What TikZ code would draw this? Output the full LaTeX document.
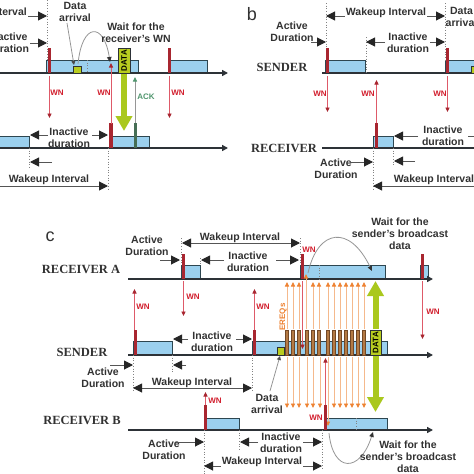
\documentclass[tikz,border=0pt]{standalone}
\usepackage{fontspec}
\setmainfont{Liberation Sans}
\newfontfamily\rsserif{Liberation Serif}
\usetikzlibrary{arrows.meta}
\definecolor{boxblue}{RGB}{155,208,238}
\definecolor{boxedge}{RGB}{45,70,80}
\definecolor{barred}{RGB}{168,38,48}
\definecolor{wnred}{RGB}{222,90,105}
\definecolor{wnlabel}{RGB}{210,30,45}
\definecolor{textgray}{RGB}{50,50,50}
\definecolor{lineg}{RGB}{45,50,55}
\definecolor{shaftg}{RGB}{85,85,85}
\definecolor{datagreen}{RGB}{184,204,32}
\definecolor{biggreen}{RGB}{170,200,30}
\definecolor{ackgreen}{RGB}{80,150,110}
\definecolor{ackbar}{RGB}{70,110,85}
\definecolor{orangeline}{RGB}{245,185,140}
\definecolor{orangehead}{RGB}{238,130,50}
\definecolor{ereqbar}{RGB}{180,122,68}
\definecolor{ereqedge}{RGB}{115,72,38}
\definecolor{dotgray}{RGB}{130,130,130}
\definecolor{curvegray}{RGB}{150,150,150}
\newcommand\rsLbl{\fontsize{10.5}{12}\selectfont\bfseries}
\newcommand\rsWNf{\fontsize{8}{9}\selectfont\bfseries}
\newcommand\rsRole{\fontsize{12.5}{14}\selectfont\rsserif\bfseries}
\newcommand\rsPanel{\fontsize{18}{20}\selectfont}
\newcommand\rsBar[2]{\fill[barred] (#1-1.6,#2-25) rectangle (#1+1.6,#2);}
\tikzset{
  txt/.style={font=\rsLbl, text=textgray, align=center, inner sep=0pt},
  wtxt/.style={txt, fill=white, inner xsep=1pt, inner ysep=0.5pt},
  role/.style={font=\rsRole, text=textgray, inner sep=0pt},
  slotbox/.style={draw=boxedge, fill=boxblue, line width=1pt},
  timeline/.style={draw=lineg, line width=1.6pt, -{Triangle[length=6pt,width=6pt]}},
  rsdots/.style={draw=dotgray, dotted, line width=0.7pt},
  bigtip/.style={draw=shaftg, line width=1pt, -{Triangle[length=9pt,width=9pt,color=black!85]}},
  dbltip/.style={draw=shaftg, line width=1pt, {Triangle[length=9pt,width=9pt,color=black!85]}-{Triangle[length=9pt,width=9pt,color=black!85]}},
  wnarrow/.style={draw=wnred, line width=0.9pt, -{Triangle[length=4.5pt,width=4pt,color=barred]}},
  wnlbl/.style={font=\rsWNf, text=wnlabel, inner sep=0pt},
  ereqbarst/.style={fill=ereqbar, draw=ereqedge, line width=0.5pt},
  ereqarrow/.style={draw=orangeline, line width=0.9pt, -{Triangle[length=4.5pt,width=4pt,color=orangehead]}},
  greenarrow/.style={draw=biggreen, line width=6pt, -{Triangle[length=15pt,width=16pt]}},
  databox/.style={fill=datagreen, draw=lineg, line width=0.7pt},
  datatxt/.style={font=\rsWNf, text=black, rotate=90, inner sep=0pt},
  curvearrow/.style={draw=curvegray, line width=0.8pt, -{Triangle[length=5pt,width=4.5pt,color=black!80]}},
  pointer/.style={draw=curvegray, line width=0.8pt, -{Triangle[length=4pt,width=4pt,color=black!70]}},
  ackarrow/.style={draw=curvegray, line width=0.9pt, -{Triangle[length=4.5pt,width=4pt,color=ackgreen]}}
}
\begin{document}
\begin{tikzpicture}[x=1pt,y=-1pt]
\useasboundingbox (0,0) rectangle (474,474);
\fill[white] (0,0) rectangle (474,474);
\clip (0,0) rectangle (474,474);

% ================= panel a =================
\draw[slotbox] (46,60) rectangle (138,73);
\draw[slotbox] (168,60) rectangle (207,73);
\draw[slotbox] (-5,136) rectangle (29,148);
\draw[slotbox] (109,136) rectangle (149,148);
\draw[timeline] (-5,73) -- (228,73);
\draw[timeline] (-5,148) -- (228,148);
\draw[rsdots] (87,60) -- (87,73);
\draw[rsdots] (47,0) -- (47,60);
\draw[rsdots] (29,148) -- (29,168);
\draw[rsdots] (108,148) -- (108,190);
\rsBar{49.5}{73}
\rsBar{169.5}{73}
\rsBar{111}{148}
\fill[ackbar] (133.5,123) rectangle (136.5,148);
\draw[databox] (73,66) rectangle (81,73);
\draw[databox] (118,48) rectangle (130,73);
\node[datatxt] (dataa) at (124,60.5) {DATA};
\draw[greenarrow] (124,74) -- (124,131);
\draw[wnarrow] (49.5,76) -- (49.5,118);
\node[wnlbl] (wna1) at (57,93) {WN};
\draw[wnarrow] (111,124) -- (111,63);
\node[wnlbl] (wna2) at (104,93) {WN};
\draw[wnarrow] (169.5,76) -- (169.5,118);
\node[wnlbl] (wna3) at (178,93) {WN};
\draw[ackarrow] (135,123) -- (135,77);
\node[font=\rsWNf, text=ackgreen, inner sep=0pt] (acka) at (146,97) {ACK};
\draw[pointer] (67,23) -- (74,65);
\draw[curvearrow] (78,64) .. controls (82,22) and (104,22) .. (110,62);
\node[txt] (daa) at (75,11.5) {Data\\arrival};
\node[txt] (waita) at (136,33) {Wait for the\\receiver's WN};
\node[wtxt, anchor=east] (wia) at (28,13) {Wakeup Interval};
\draw[bigtip] (28,16) -- (47,16);
\node[txt] (ida) at (8,42.5) {Inactive\\duration};
\draw[bigtip] (30,43) -- (47,43);
\node[txt] (idb) at (69,137.5) {Inactive\\duration};
\draw[bigtip] (48,135) -- (30,135);
\draw[bigtip] (92,135) -- (108,135);
\draw[bigtip] (52,162) -- (30,162);
\draw[bigtip] (-5,186) -- (108,186);
\node[wtxt] (wib) at (49,180) {Wakeup Interval};

% ================= panel b =================
\node[font=\rsPanel, text=textgray, inner sep=0pt] (lb) at (252,14) {b};
\draw[slotbox] (325,60) rectangle (365,73);
\draw[slotbox] (445,60) rectangle (480,73);
\draw[slotbox] (373,136) rectangle (393,148);
\draw[timeline] (322,73) -- (480,73);
\draw[timeline] (322,148) -- (480,148);
\draw[databox] (471,66) rectangle (479,73);
\draw[rsdots] (326,3) -- (326,60);
\draw[rsdots] (445,3) -- (445,60);
\draw[rsdots] (366,37) -- (366,73);
\draw[rsdots] (373,148) -- (373,190);
\draw[rsdots] (393,148) -- (393,166);
\rsBar{327.5}{73}
\rsBar{447.5}{73}
\rsBar{376.5}{148}
\draw[wnarrow] (327.5,76) -- (327.5,112);
\node[wnlbl] (wnb1) at (320,94) {WN};
\draw[wnarrow] (376.5,123) -- (376.5,80);
\node[wnlbl] (wnb2) at (368,94) {WN};
\draw[wnarrow] (447.5,76) -- (447.5,112);
\node[wnlbl] (wnb3) at (440,94) {WN};
\draw[dbltip] (326,16) -- (445,16);
\node[wtxt] (wic) at (386,12.5) {Wakeup Interval};
\node[txt] (dab) at (461.5,16.5) {Data\\arrival};
\node[txt] (adb) at (292,31.5) {Active\\Duration};
\draw[bigtip] (311,42) -- (326,42);
\node[txt] (idc) at (408,42.5) {Inactive\\duration};
\draw[bigtip] (385,42) -- (366,42);
\draw[bigtip] (430,42) -- (445,42);
\node[role] (sendb) at (282,67) {SENDER};
\node[role] (recb) at (284,148) {RECEIVER};
\node[txt] (idd) at (443,136) {Inactive\\duration};
\draw[bigtip] (418,136) -- (394,136);
\draw[bigtip] (468,136) -- (494,136);
\draw[bigtip] (415,161) -- (394,161);
\node[txt] (adc) at (336,169) {Active\\Duration};
\draw[bigtip] (350,162) -- (373,162);
\draw[bigtip] (490,186) -- (373,186);
\node[wtxt] (wid) at (434,180) {Wakeup Interval};

% ================= panel c =================
\node[font=\rsPanel, text=textgray, inner sep=0pt] (lc) at (50,237) {c};
\node[role] (reca) at (81,269) {RECEIVER A};
\node[role] (sendc) at (82,352) {SENDER};
\node[role] (recbb) at (82,420) {RECEIVER B};
% boxes
\draw[slotbox] (181,265) rectangle (200,279);
\draw[slotbox] (300,265) rectangle (385,279);
\draw[slotbox] (420,265) rectangle (428,279);
\draw[slotbox] (133,341) rectangle (172,355);
\draw[slotbox] (252,341) rectangle (387,355);
\draw[slotbox] (205,418) rectangle (239,430);
\draw[slotbox] (324,418) rectangle (387,430);
\draw[timeline] (128,279) -- (433,279);
\draw[timeline] (128,355) -- (433,355);
\draw[timeline] (128,430) -- (433,430);
% dotted
\draw[rsdots] (181,238) -- (181,265);
\draw[rsdots] (200,258) -- (200,265);
\draw[rsdots] (300,238) -- (300,265);
\draw[rsdots] (319,265) -- (319,279);
\draw[rsdots] (133,355) -- (133,392);
\draw[rsdots] (172,355) -- (172,372);
\draw[rsdots] (252,355) -- (252,392);
\draw[rsdots] (356,418) -- (356,430);
\draw[rsdots] (204,430) -- (204,474);
\draw[rsdots] (239,430) -- (239,450);
\draw[rsdots] (322,430) -- (322,470);
% EREQ
\foreach \ex in {287,293,299,307,313,319,328,334,340,346,352,358,364} {
  \draw[ereqbarst] (\ex-1.6,330) rectangle (\ex+1.6,355);
}
\foreach \ex in {287,293,299,313,319,328,334,340,346,352,358,364} {
  \draw[ereqarrow] (\ex,329) -- (\ex,282);
}
\draw[ereqarrow] (306,329) -- (306,274);
\foreach \ex in {287,293,299,307,313,320,334,340,346,352,358,364} {
  \draw[ereqarrow] (\ex,357) -- (\ex,408);
}
\draw[ereqarrow] (328,357) -- (328,426);
\node[font=\rsWNf, text=orangehead, rotate=90, inner sep=0pt] (ereq) at (283,317) {EREQs};
% green squares and data
\draw[databox] (277,347) rectangle (284,355);
\draw[databox] (370,330) rectangle (381,355);
\node[datatxt] (datac) at (375.5,342.5) {DATA};
\draw[greenarrow] (375.5,329) -- (375.5,281);
\draw[greenarrow] (375.5,356) -- (375.5,412);
% red bars
\rsBar{183.5}{279}
\rsBar{302.5}{279}
\rsBar{422.5}{279}
\rsBar{135.5}{355}
\rsBar{254.5}{355}
\rsBar{205.5}{430}
\rsBar{325.5}{430}
% WN arrows
\draw[wnarrow] (183.5,281) -- (183.5,316);
\node[wnlbl] (wnc1) at (193,297) {WN};
\draw[wnarrow] (134.5,330) -- (134.5,289);
\node[wnlbl] (wnc2) at (143,307) {WN};
\draw[wnarrow] (254.5,330) -- (254.5,289);
\node[wnlbl] (wnc3) at (263,307) {WN};
\draw[wnarrow] (422.5,281) -- (422.5,339);
\node[wnlbl] (wnc4) at (433,312) {WN};
\draw[wnarrow] (302.5,281) -- (302.5,349);
\node[wnlbl] (wnc5) at (309,250) {WN};
\draw[wnarrow] (205.5,405) -- (205.5,392);
\node[wnlbl] (wnc6) at (215,401) {WN};
\draw[wnarrow] (325.5,405) -- (325.5,358);
\node[wnlbl] (wnc7) at (316,418) {WN};
% receiver A labels
\node[txt] (adra) at (147,246) {Active\\Duration};
\draw[bigtip] (160,260) -- (180,260);
\draw[dbltip] (182,243) -- (300,243);
\node[wtxt] (wira) at (240,238) {Wakeup Interval};
\node[txt] (idra) at (248,262) {Inactive\\duration};
\draw[bigtip] (224,260) -- (201,260);
\draw[bigtip] (276,260) -- (299,260);
\node[txt] (waitc) at (400,234) {Wait for the\\sender's broadcast\\data};
\draw[curvearrow] (308,273) .. controls (318,228) and (350,225) .. (372,271);
% sender labels
\node[txt] (idsc) at (212,341.5) {Inactive\\duration};
\draw[bigtip] (188,339) -- (173,339);
\draw[bigtip] (236,339) -- (252,339);
\node[txt] (adsc) at (103,377.5) {Active\\Duration};
\draw[bigtip] (110,365) -- (133,365);
\draw[bigtip] (186,365) -- (173,365);
\draw[dbltip] (133,388) -- (252,388);
\node[wtxt] (wisc) at (192,383) {Wakeup Interval};
\node[txt] (dac) at (267,404) {Data\\arrival};
\draw[pointer] (270,391) -- (280,356);
% receiver B labels
\node[txt] (adrb) at (164,450) {Active\\Duration};
\draw[bigtip] (176,442) -- (204,442);
\node[txt] (idrb) at (281,442.5) {Inactive\\duration};
\draw[bigtip] (258,442) -- (240,442);
\draw[bigtip] (303,442) -- (322,442);
\draw[dbltip] (204,466) -- (322,466);
\node[wtxt] (wirb) at (262,462) {Wakeup Interval};
\draw[curvearrow] (329,433) .. controls (333,473) and (360,473) .. (373,432);
\node[txt] (waitd) at (408,457) {Wait for the\\sender's broadcast\\data};
\end{tikzpicture}
\end{document}
